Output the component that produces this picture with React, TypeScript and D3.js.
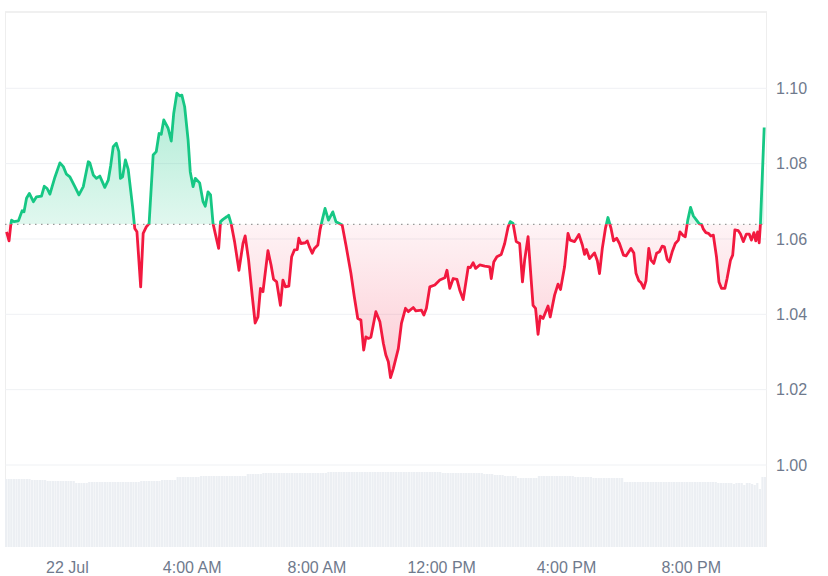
import React from "react";
import * as d3 from "d3";

// hours relative to 22 Jul 00:00
const hours = [
  -1.95, -1.87, -1.81, -1.79, -1.71, -1.57, -1.5, -1.45, -1.39, -1.31, -1.22, -1.09, -0.99, -0.83, -0.74, -0.65, -0.56, -0.4, -0.24, -0.13,
  -0.03, 0.08, 0.24, 0.37, 0.51, 0.67, 0.72, 0.83, 0.93, 1.04, 1.2, 1.31, 1.39, 1.47, 1.57, 1.65, 1.7, 1.77, 1.86, 1.95,
  2.09, 2.16, 2.23, 2.35, 2.43, 2.53, 2.62, 2.75, 2.85, 2.94, 3.01, 3.09, 3.23, 3.33, 3.41, 3.51, 3.6, 3.67, 3.76, 3.87,
  3.94, 4.03, 4.1, 4.24, 4.35, 4.42, 4.51, 4.59, 4.67, 4.74, 4.85, 4.91, 4.99, 5.11, 5.17, 5.25, 5.36, 5.5, 5.63, 5.7,
  5.81, 5.93, 6.02, 6.11, 6.19, 6.27, 6.43, 6.53, 6.61, 6.71, 6.83, 6.91, 6.99, 7.1, 7.19, 7.28, 7.37, 7.42, 7.49, 7.63,
  7.69, 7.76, 7.85, 7.92, 8.03, 8.1, 8.17, 8.26, 8.37, 8.51, 8.61, 8.72, 8.81, 8.93, 9.09, 9.2, 9.31, 9.41, 9.5, 9.57,
  9.65, 9.73, 9.89, 10.02, 10.13, 10.21, 10.29, 10.36, 10.45, 10.61, 10.71, 10.84, 10.93, 11.09, 11.17, 11.35, 11.43, 11.51, 11.62, 11.78,
  11.94, 12.1, 12.17, 12.26, 12.37, 12.49, 12.58, 12.69, 12.85, 12.92, 13.01, 13.09, 13.22, 13.38, 13.54, 13.59, 13.67, 13.77, 13.91, 14.02,
  14.13, 14.2, 14.29, 14.39, 14.5, 14.59, 14.66, 14.77, 14.87, 14.93, 15.01, 15.09, 15.16, 15.25, 15.41, 15.48, 15.62, 15.73, 15.81, 15.94,
  16.05, 16.12, 16.26, 16.4, 16.51, 16.58, 16.64, 16.74, 16.9, 16.99, 17.06, 17.15, 17.25, 17.33, 17.43, 17.51, 17.61, 17.7, 17.83, 17.91,
  18.07, 18.16, 18.23, 18.32, 18.39, 18.48, 18.55, 18.64, 18.71, 18.8, 18.89, 18.98, 19.07, 19.14, 19.23, 19.3, 19.39, 19.49, 19.59, 19.64,
  19.73, 19.81, 19.89, 19.98, 20.07, 20.17, 20.26, 20.33, 20.39, 20.47, 20.55, 20.63, 20.71, 20.81, 20.89, 20.97, 21.08, 21.15, 21.26, 21.33,
  21.4, 21.51, 21.58, 21.67, 21.77, 21.86, 21.93, 22.01, 22.07, 22.13, 22.18, 22.22, 22.34,
];

const prices = [
  1.0619, 1.0595, 1.0641, 1.065, 1.0646, 1.0648, 1.0664, 1.0675, 1.0672, 1.0708, 1.0721, 1.0699, 1.0712, 1.0714, 1.074, 1.0734, 1.0719, 1.0764, 1.0802, 1.0792,
  1.0772, 1.0765, 1.0739, 1.0717, 1.0739, 1.0805, 1.0802, 1.077, 1.0761, 1.0767, 1.0737, 1.0756, 1.0796, 1.0845, 1.0854, 1.0832, 1.0761, 1.0765, 1.081, 1.0785,
  1.0686, 1.0628, 1.0619, 1.0473, 1.0615, 1.0632, 1.0641, 1.0823, 1.0832, 1.088, 1.0878, 1.0916, 1.0894, 1.086, 1.0934, 1.0987, 1.098, 1.0982, 1.0951, 1.0863,
  1.0778, 1.0739, 1.0761, 1.0749, 1.0699, 1.0687, 1.0725, 1.0717, 1.0641, 1.0615, 1.0575, 1.0646, 1.0652, 1.0659, 1.0663, 1.0641, 1.0593, 1.0517, 1.0588, 1.0608,
  1.0544, 1.0446, 1.0377, 1.0393, 1.0469, 1.046, 1.0569, 1.0531, 1.0493, 1.0486, 1.0424, 1.0491, 1.0473, 1.0475, 1.0553, 1.0571, 1.0572, 1.0602, 1.0588, 1.059,
  1.0595, 1.0579, 1.0562, 1.0575, 1.0584, 1.0624, 1.065, 1.0681, 1.065, 1.0672, 1.0646, 1.0641, 1.0637, 1.0584, 1.0509, 1.0446, 1.0389, 1.0385, 1.0305, 1.034,
  1.0336, 1.0339, 1.0407, 1.038, 1.0323, 1.0292, 1.0274, 1.0232, 1.0256, 1.0309, 1.0376, 1.0416, 1.0407, 1.0418, 1.0409, 1.0411, 1.0398, 1.0416, 1.0473, 1.0478,
  1.0491, 1.0497, 1.0517, 1.0469, 1.0495, 1.0493, 1.0464, 1.0439, 1.0525, 1.0524, 1.0537, 1.0522, 1.0531, 1.0528, 1.0526, 1.0495, 1.0539, 1.0553, 1.0559, 1.0588,
  1.0632, 1.0646, 1.0641, 1.0593, 1.0588, 1.0486, 1.0544, 1.0606, 1.0491, 1.0424, 1.0416, 1.0347, 1.0395, 1.0389, 1.0422, 1.0393, 1.0451, 1.048, 1.0466, 1.0526,
  1.0615, 1.0597, 1.0593, 1.0612, 1.0584, 1.0559, 1.0572, 1.0548, 1.0563, 1.0542, 1.0508, 1.0575, 1.0628, 1.0657, 1.0628, 1.0595, 1.0602, 1.0588, 1.0557, 1.0555,
  1.0575, 1.0563, 1.0509, 1.0489, 1.0484, 1.0469, 1.0489, 1.0575, 1.0544, 1.0535, 1.0562, 1.0566, 1.0581, 1.0579, 1.0546, 1.0539, 1.0566, 1.0588, 1.0597, 1.0619,
  1.061, 1.0606, 1.065, 1.0684, 1.0661, 1.065, 1.064, 1.0639, 1.0626, 1.0617, 1.0615, 1.0608, 1.061, 1.0553, 1.0486, 1.0469, 1.0469, 1.0495, 1.0544, 1.0557,
  1.0624, 1.0622, 1.0613, 1.0593, 1.0613, 1.0613, 1.0597, 1.0617, 1.0595, 1.0619, 1.059, 1.0641, 1.0896,
];

const baselinePrice = 1.0639;

// 5-minute volume bars starting at -2:00
const volumeStartHour = -2;
const volumes = [
  68, 68, 68, 68, 68, 68, 68, 68, 68, 68, 67, 67,
  67, 67, 67, 67, 66, 66, 66, 66, 66, 66, 66, 66,
  66, 66, 66, 64, 64, 64, 64, 64, 65, 65, 65, 65,
  65, 65, 65, 65, 65, 65, 65, 65, 65, 65, 65, 65,
  65, 65, 65, 65, 66, 66, 66, 66, 66, 66, 66, 66,
  67, 67, 67, 67, 67, 67, 70, 70, 70, 70, 70, 70,
  70, 70, 70, 71, 71, 71, 71, 71, 71, 71, 71, 71,
  71, 71, 71, 71, 71, 71, 71, 71, 71, 73, 73, 73,
  73, 73, 73, 74, 74, 74, 74, 74, 74, 74, 74, 74,
  74, 74, 74, 74, 74, 74, 74, 74, 74, 74, 74, 74,
  74, 74, 74, 74, 75, 75, 75, 75, 75, 75, 75, 75,
  75, 75, 75, 75, 75, 75, 75, 75, 75, 75, 75, 75,
  75, 75, 75, 75, 75, 75, 75, 75, 75, 75, 75, 75,
  75, 75, 75, 75, 75, 75, 75, 75, 75, 75, 75, 75,
  74, 74, 74, 74, 74, 74, 74, 74, 74, 74, 74, 74,
  74, 74, 74, 74, 73, 73, 73, 73, 72, 72, 72, 72,
  71, 71, 71, 71, 71, 69, 69, 69, 69, 69, 69, 69,
  69, 71, 71, 71, 71, 71, 71, 71, 71, 71, 71, 71,
  71, 71, 71, 70, 70, 70, 70, 70, 70, 70, 69, 69,
  69, 69, 69, 69, 69, 69, 69, 69, 69, 69, 65, 65,
  65, 65, 65, 65, 65, 65, 65, 65, 65, 65, 65, 65,
  65, 65, 65, 65, 65, 65, 65, 65, 65, 65, 65, 65,
  65, 65, 65, 65, 65, 65, 65, 65, 65, 65, 64, 64,
  64, 64, 64, 64, 63, 64, 64, 64, 62, 64, 64, 63,
  62, 64, 58, 70, 70,
];

const yTickValues = [1.0, 1.02, 1.04, 1.06, 1.08, 1.1];
const xTickHours = [0, 4, 8, 12, 16, 20];
const xTickLabels = ["22 Jul", "4:00 AM", "8:00 AM", "12:00 PM", "4:00 PM", "8:00 PM"];

const W = 828;
const H = 576;
const GREEN = "#16c784";
const RED = "#f2193f";
const TEXT = "#6f7a8d";
const FONT = "'Liberation Sans', Arial, sans-serif";

export default function App() {
  const left = 5;
  const right = 767;
  const top = 12;
  const bottom = 547;

  const x = d3.scaleLinear().domain([-2, 22.43]).range([left, right]);
  const y = d3.scaleLinear().domain([1.0, 1.1]).range([465, 88.3]);
  const yv = d3.scaleLinear().domain([0, 80]).range([bottom, bottom - 80]);

  const data = hours.map((h, i) => ({ h, p: prices[i] }));
  const yb = y(baselinePrice);

  const line = d3
    .line<{ h: number; p: number }>()
    .x((d) => x(d.h))
    .y((d) => y(d.p));
  const area = d3
    .area<{ h: number; p: number }>()
    .x((d) => x(d.h))
    .y0(yb)
    .y1((d) => y(d.p));

  const barStep = x(volumeStartHour + 1 / 12) - x(volumeStartHour);

  return (
    <svg
      width={W}
      height={H}
      style={{ position: "absolute", left: 0, top: 0, background: "#fff" }}
      fontFamily={FONT}
    >
      <defs>
        <clipPath id="above">
          <rect x={0} y={0} width={W} height={yb} />
        </clipPath>
        <clipPath id="below">
          <rect x={0} y={yb} width={W} height={H - yb} />
        </clipPath>
        <linearGradient id="gGreen" gradientUnits="userSpaceOnUse" x1={0} x2={0} y1={y(1.1)} y2={yb}>
          <stop offset="0" stopColor={GREEN} stopOpacity={0.36} />
          <stop offset="1" stopColor={GREEN} stopOpacity={0.13} />
        </linearGradient>
        <linearGradient id="gRed" gradientUnits="userSpaceOnUse" x1={0} x2={0} y1={yb} y2={y(1.02)}>
          <stop offset="0" stopColor={RED} stopOpacity={0.05} />
          <stop offset="1" stopColor={RED} stopOpacity={0.24} />
        </linearGradient>
      </defs>

      {/* frame */}
      <line x1={left} x2={right} y1={top} y2={top} stroke="#ebebeb" strokeWidth={1.5} />
      <line x1={left + 0.5} x2={left + 0.5} y1={top} y2={bottom} stroke="#eeeeee" strokeWidth={1} />
      <line x1={right - 0.5} x2={right - 0.5} y1={top} y2={bottom} stroke="#eeeeee" strokeWidth={1} />

      {/* volume */}
      <g>
        {volumes.map((v, i) => {
          const x0 = x(volumeStartHour + i / 12);
          return (
            <rect
              key={i}
              x={x0}
              y={yv(v)}
              width={Math.max(0, Math.min(barStep - 0.4, right - x0))}
              height={bottom - yv(v)}
              fill="#eceff3"
            />
          );
        })}
      </g>

      {/* grid */}
      {yTickValues.map((t) => (
        <line key={t} x1={left} x2={right} y1={y(t)} y2={y(t)} stroke="#eff1f4" strokeWidth={1} />
      ))}

      {/* areas */}
      <path d={area(data) || ""} fill="url(#gGreen)" clipPath="url(#above)" />
      <path d={area(data) || ""} fill="url(#gRed)" clipPath="url(#below)" />

      {/* baseline */}
      <line
        x1={left}
        x2={right}
        y1={yb}
        y2={yb}
        stroke="#9a9a9a"
        strokeWidth={1.3}
        strokeDasharray="1.5 4.5"
      />

      {/* lines */}
      <path d={line(data) || ""} fill="none" stroke={GREEN} strokeWidth={2.8} strokeLinejoin="round" clipPath="url(#above)" />
      <path d={line(data) || ""} fill="none" stroke={RED} strokeWidth={2.8} strokeLinejoin="round" clipPath="url(#below)" />

      {/* y labels */}
      {yTickValues.map((t) => (
        <text key={t} x={776} y={y(t)} dy="0.35em" fontSize={16} fill={TEXT}>
          {t.toFixed(2)}
        </text>
      ))}

      {/* x labels */}
      {xTickHours.map((h, i) => (
        <text key={h} x={x(h)} y={573} textAnchor="middle" fontSize={16} fill={TEXT}>
          {xTickLabels[i]}
        </text>
      ))}
    </svg>
  );
}
